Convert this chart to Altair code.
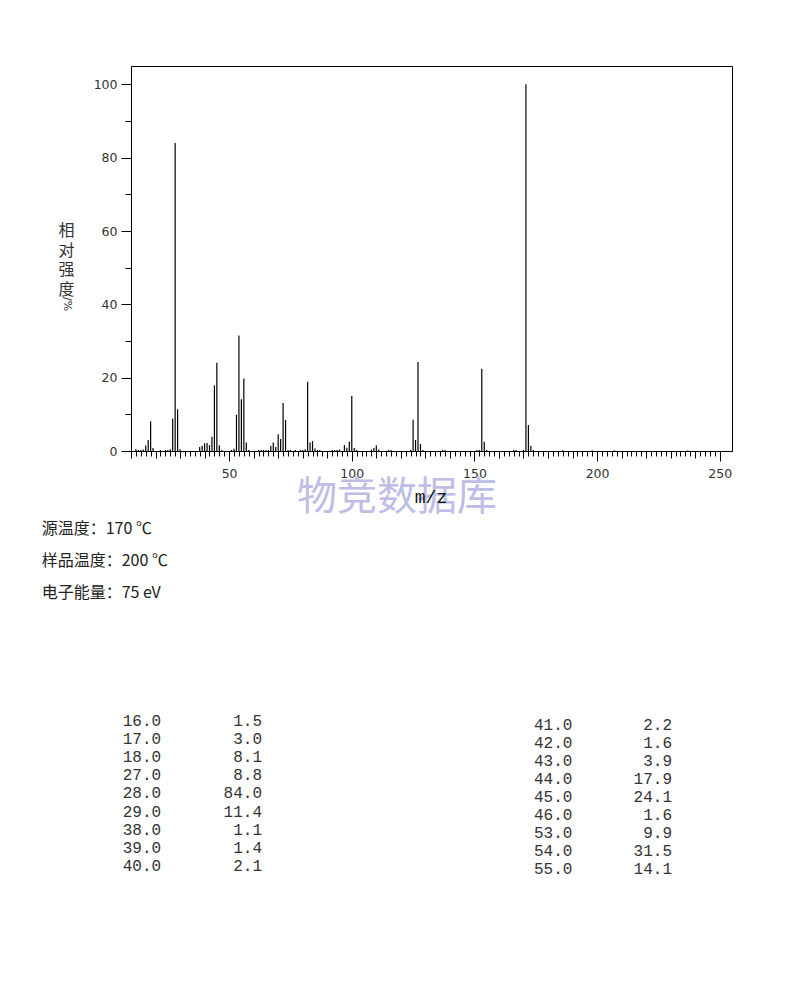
import altair as alt
import pandas as pd

# ---- spectrum (m/z, relative intensity %) ----
mz = [12, 13, 14, 15, 16, 17, 18, 19, 22, 24, 25, 26, 27, 28, 29, 30,
      38, 39, 40, 41, 42, 43, 44, 45, 46, 47, 51, 52, 53, 54, 55, 56, 57, 58,
      62, 63, 64, 65, 66, 67, 68, 69, 70, 71, 72, 73, 74, 75, 77, 79, 80, 81,
      82, 83, 84, 85, 86, 87, 92, 93, 94, 95, 97, 98, 99, 100, 101, 102,
      108, 109, 110, 111, 115, 116, 124, 125, 126, 127, 128, 129, 137, 138,
      151, 152, 153, 154, 155, 166, 167, 170, 171, 172, 173, 174,
      186, 198, 207, 237]
intensity = [0.5, 0.3, 0.3, 0.4, 1.5, 3.0, 8.1, 0.8, 0.3, 0.3, 0.3, 0.5, 8.8, 84.0, 11.4, 0.5,
             1.1, 1.4, 2.1, 2.2, 1.6, 3.9, 17.9, 24.1, 1.6, 0.3, 0.3, 0.6, 9.9, 31.5, 14.1, 19.8, 2.3, 0.3,
             0.3, 0.3, 0.3, 0.3, 0.3, 1.4, 2.3, 1.1, 4.6, 3.3, 13.1, 8.5, 0.3, 0.3, 0.3, 0.3, 0.3, 0.5,
             18.9, 2.3, 2.7, 0.7, 0.3, 0.3, 0.3, 0.3, 0.3, 0.4, 1.6, 0.9, 2.5, 15.0, 0.8, 0.3,
             0.4, 0.8, 1.6, 0.4, 0.3, 0.3, 0.3, 8.5, 3.0, 24.3, 1.9, 0.3, 0.3, 0.3,
             0.3, 0.3, 22.4, 2.5, 0.3, 0.3, 0.3, 0.3, 100.0, 7.1, 1.4, 0.3,
             0.2, 0.2, 0.2, 0.2]

# ---- peak table shown under the chart ----
table_left_mz = [16.0, 17.0, 18.0, 27.0, 28.0, 29.0, 38.0, 39.0, 40.0]
table_left_int = [1.5, 3.0, 8.1, 8.8, 84.0, 11.4, 1.1, 1.4, 2.1]
table_right_mz = [41.0, 42.0, 43.0, 44.0, 45.0, 46.0, 53.0, 54.0, 55.0]
table_right_int = [2.2, 1.6, 3.9, 17.9, 24.1, 1.6, 9.9, 31.5, 14.1]

conditions = ["源温度：170 ℃", "样品温度：200 ℃", "电子能量：75 eV"]
y_title_chars = ["相", "对", "强", "度"]
x_tick_values = list(range(10, 251, 2))
y_tick_values = list(range(0, 101, 10))

W, H = 601, 385
spec = pd.DataFrame({"mz": mz, "inten": intensity})
one = pd.DataFrame({"k": [0]})

x_scale = alt.Scale(domain=[10, 255], nice=False, zero=False)
y_scale = alt.Scale(domain=[0, 105], nice=False)

bars = alt.Chart(spec).mark_rule(color="black", strokeWidth=1.2).encode(
    x=alt.X("mz:Q", scale=x_scale, title=None,
            axis=alt.Axis(values=x_tick_values,
                          labelExpr="datum.value % 50 == 0 ? datum.label : ''",
                          tickSize={"condition": [
                              {"test": "datum.value % 50 == 0", "value": 10},
                              {"test": "datum.value % 10 == 0", "value": 7}],
                              "value": 5},
                          labelPadding=6, labelFont="DejaVu Sans", labelFontSize=12.5,
                          labelColor="#333", tickColor="black", domainColor="black",
                          grid=False, labelFlush=False, labelOverlap=False)),
    y=alt.Y("inten:Q", scale=y_scale, title=None,
            axis=alt.Axis(values=y_tick_values,
                          labelExpr="datum.value % 20 == 0 ? datum.label : ''",
                          tickSize={"condition": {"test": "datum.value % 20 == 0", "value": 10},
                                    "value": 6},
                          labelPadding=4, labelFont="DejaVu Sans", labelFontSize=12.5,
                          labelColor="#333", tickColor="black", domainColor="black",
                          grid=False, labelFlush=False, labelOverlap=False)),
    y2=alt.datum(0),
)


def txt(text, x, y, **kw):
    return alt.Chart(one).mark_text(text=text, **kw).encode(x=alt.value(x), y=alt.value(y))


# multi-line text: y is the centre of the first line
y_title = txt("\n".join(y_title_chars), -64.5, 165, lineBreak="\n", lineHeight=19.7,
              font="Noto Sans CJK SC", fontSize=16, color="#333", align="center", baseline="middle")
y_title_pct = txt("/%", -64.5, 238, font="DejaVu Sans", fontSize=11, color="#333",
                  angle=90, align="center", baseline="middle")

watermark = txt("物竞数据库", 266, 432, font="Noto Sans CJK SC", fontSize=40,
                color="#bdbde6", align="center", baseline="middle")
x_title = txt("m/z", 300, 432, font="Liberation Mono", fontSize=18, color="#111",
              align="center", baseline="middle")

cond_text = txt("\n".join(conditions), -89.3, 463, lineBreak="\n", lineHeight=32,
                font="Noto Sans CJK SC", fontSize=16, color="#222", align="left", baseline="middle")


def fmt(vals):
    return "\n".join(f"{v:.1f}" for v in vals)


tkw = dict(lineBreak="\n", lineHeight=18.1, font="Liberation Mono", fontSize=16,
           color="#333", baseline="middle")
t_l1 = txt(fmt(table_left_mz), -8.3, 655, align="left", **tkw)
t_l2 = txt(fmt(table_left_int), 131, 655, align="right", **tkw)
t_r1 = txt(fmt(table_right_mz), 403, 658.5, align="left", **tkw)
t_r2 = txt(fmt(table_right_int), 541, 658.5, align="right", **tkw)

chart = alt.layer(
    bars, watermark, x_title, y_title, y_title_pct, cond_text, t_l1, t_l2, t_r1, t_r2
).properties(
    width=W, height=H,
    padding={"left": 123, "top": 58, "right": 40, "bottom": 480},
    autosize=alt.AutoSizeParams(type="none"),
).configure_view(stroke="black", strokeWidth=1)

chart.save("out.html", embed_options={"renderer": "svg", "actions": False})
